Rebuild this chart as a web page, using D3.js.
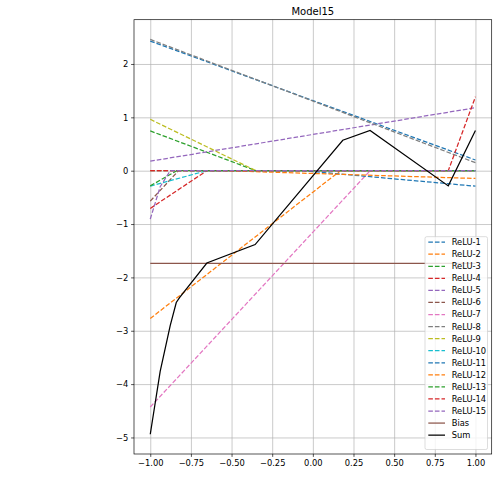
<!DOCTYPE html>
<html>
<head>
<meta charset="utf-8">
<script src="https://cdn.jsdelivr.net/npm/d3@7"></script>
<style>
  body { margin: 0; background: #fff; }
  svg { display: block; font-family: "DejaVu Sans", sans-serif; }
</style>
</head>
<body>
<div id="chart"></div>
<script>
// each unit: [x, y] break points
const relu1 = [[-1, 2.43], [1, 0.2]];
const relu2 = [[-1, -2.77], [0.17, 0], [1, 0]];
const relu3 = [[-1, 0.745], [-0.35, 0], [1, 0]];
const relu4 = [[-1, -0.707], [-0.652, 0], [1, 0]];
const relu5 = [[-1, 0.178], [1, 1.18]];
const relu6 = [[-1, -0.57], [-0.826, 0], [1, 0]];
const relu7 = [[-1, -4.43], [0.352, 0], [1, 0]];
const relu8 = [[-1, 2.46], [1, 0.15]];
const relu9 = [[-1, 0.963], [-0.35, 0], [1, 0]];
const relu10 = [[-1, -0.29], [-0.652, 0], [1, 0]];
const relu11 = [[-1, 0], [-0.058, 0], [1, -0.29]];
const relu12 = [[-1, 0], [-0.55, 0], [1, -0.146]];
const relu13 = [[-1, -0.284], [-0.836, 0], [1, 0]];
const relu14 = [[-1, 0], [0.833, 0], [1, 1.385]];
const relu15 = [[-1, -0.907], [-0.939, -0.3], [-0.877, 0], [1, 0]];
const bias = [[-1, -1.736], [1, -1.736]];
const sum = [[-1, -4.94], [-0.939, -3.76], [-0.877, -2.9], [-0.84, -2.47], [-0.82, -2.38],
  [-0.652, -1.73], [-0.355, -1.385], [0.184, 0.57], [0.352, 0.755], [0.833, -0.285], [1, 0.755]];

const reluUnits = [relu1, relu2, relu3, relu4, relu5, relu6, relu7, relu8,
  relu9, relu10, relu11, relu12, relu13, relu14, relu15];
const xTicks = [-1, -0.75, -0.5, -0.25, 0, 0.25, 0.5, 0.75, 1];
const yTicks = [-5, -4, -3, -2, -1, 0, 1, 2];
const title = "Model15";

const palette = ["#1f77b4", "#ff7f0e", "#2ca02c", "#d62728", "#9467bd",
  "#8c564b", "#e377c2", "#7f7f7f", "#bcbd22", "#17becf"];

const series = reluUnits.map((pts, i) => ({
  name: "ReLU-" + (i + 1), pts: pts, color: palette[i % 10], dashed: true
}));
series.push({ name: "Bias", pts: bias, color: palette[15 % 10], dashed: false });
series.push({ name: "Sum", pts: sum, color: "#000000", dashed: false });

const width = 500, height = 477;
const plotLeft = 134, plotRight = 491.7, plotTop = 19.7, plotBottom = 454;
const fs = 8.33;          // 10pt at 60 dpi
const lw = 1.25;

const allX = series.flatMap(s => s.pts.map(p => p[0]));
const allY = series.flatMap(s => s.pts.map(p => p[1]));
const [x0, x1] = d3.extent(allX);
const [y0, y1] = d3.extent(allY);
const mx = (x1 - x0) * 0.05, my = (y1 - y0) * 0.05;

const xScale = d3.scaleLinear().domain([x0 - mx, x1 + mx]).range([plotLeft, plotRight]);
const yScale = d3.scaleLinear().domain([y0 - my, y1 + my]).range([plotBottom, plotTop]);

const minus = s => s.replace("-", "\u2212");

const svg = d3.select("#chart").append("svg")
  .attr("width", width)
  .attr("height", height);

// grid
svg.append("g")
  .attr("transform", `translate(0, ${plotBottom})`)
  .call(d3.axisBottom(xScale).tickValues(xTicks).tickSize(-(plotBottom - plotTop)).tickFormat(""))
  .call(g => g.select(".domain").remove())
  .selectAll("line").attr("stroke", "#b0b0b0").attr("stroke-width", 0.67);

svg.append("g")
  .attr("transform", `translate(${plotLeft}, 0)`)
  .call(d3.axisLeft(yScale).tickValues(yTicks).tickSize(-(plotRight - plotLeft)).tickFormat(""))
  .call(g => g.select(".domain").remove())
  .selectAll("line").attr("stroke", "#b0b0b0").attr("stroke-width", 0.67);

// lines
const line = d3.line().x(d => xScale(d[0])).y(d => yScale(d[1]));

svg.append("g")
  .selectAll("path")
  .data(series)
  .enter()
  .append("path")
  .attr("fill", "none")
  .attr("stroke", d => d.color)
  .attr("stroke-width", lw)
  .attr("stroke-dasharray", d => d.dashed ? "4.6,2" : null)
  .attr("d", d => line(d.pts));

// axes
svg.append("g")
  .attr("transform", `translate(0, ${plotBottom})`)
  .call(d3.axisBottom(xScale).tickValues(xTicks).tickSize(2.9).tickPadding(2.9)
    .tickFormat(d => minus(d3.format(".2f")(d))))
  .call(g => g.select(".domain").remove())
  .call(g => g.selectAll("line").attr("stroke", "#000").attr("stroke-width", 0.67))
  .selectAll("text")
  .attr("font-family", "DejaVu Sans")
  .attr("font-size", fs + "px")
  .attr("fill", "#000");

svg.append("g")
  .attr("transform", `translate(${plotLeft}, 0)`)
  .call(d3.axisLeft(yScale).tickValues(yTicks).tickSize(2.9).tickPadding(2.9)
    .tickFormat(d => minus(String(d))))
  .call(g => g.select(".domain").remove())
  .call(g => g.selectAll("line").attr("stroke", "#000").attr("stroke-width", 0.67))
  .selectAll("text")
  .attr("font-family", "DejaVu Sans")
  .attr("font-size", fs + "px")
  .attr("fill", "#000");

svg.append("rect")
  .attr("x", plotLeft).attr("y", plotTop)
  .attr("width", plotRight - plotLeft).attr("height", plotBottom - plotTop)
  .attr("fill", "none")
  .attr("stroke", "#000")
  .attr("stroke-width", 0.67);

svg.append("text")
  .attr("x", (plotLeft + plotRight) / 2)
  .attr("y", plotTop - 5)
  .attr("text-anchor", "middle")
  .attr("font-size", "10px")
  .attr("fill", "#000")
  .text(title);

// legend
const rowH = 12.06;
const legW = 62.5;
const legH = series.length * rowH + 7.8;
const legX = plotRight - 4.2 - legW;
const legY = plotBottom - 4.5 - legH;

const legend = svg.append("g");
legend.append("rect")
  .attr("x", legX).attr("y", legY)
  .attr("width", legW).attr("height", legH)
  .attr("rx", 1.7)
  .attr("fill", "#fff").attr("fill-opacity", 0.8)
  .attr("stroke", "#cccccc").attr("stroke-width", 0.67);

const items = legend.selectAll(".item")
  .data(series)
  .enter()
  .append("g")
  .attr("transform", (d, i) => `translate(${legX + 3.3}, ${legY + 5.5 + i * rowH})`);

items.append("line")
  .attr("x1", 0).attr("x2", 16.7)
  .attr("stroke", d => d.color)
  .attr("stroke-width", lw)
  .attr("stroke-dasharray", d => d.dashed ? "4.6,2" : null);

items.append("text")
  .attr("x", 16.7 + 6.7)
  .attr("dy", "0.35em")
  .attr("font-size", fs + "px")
  .attr("fill", "#000")
  .text(d => d.name);
</script>
</body>
</html>
